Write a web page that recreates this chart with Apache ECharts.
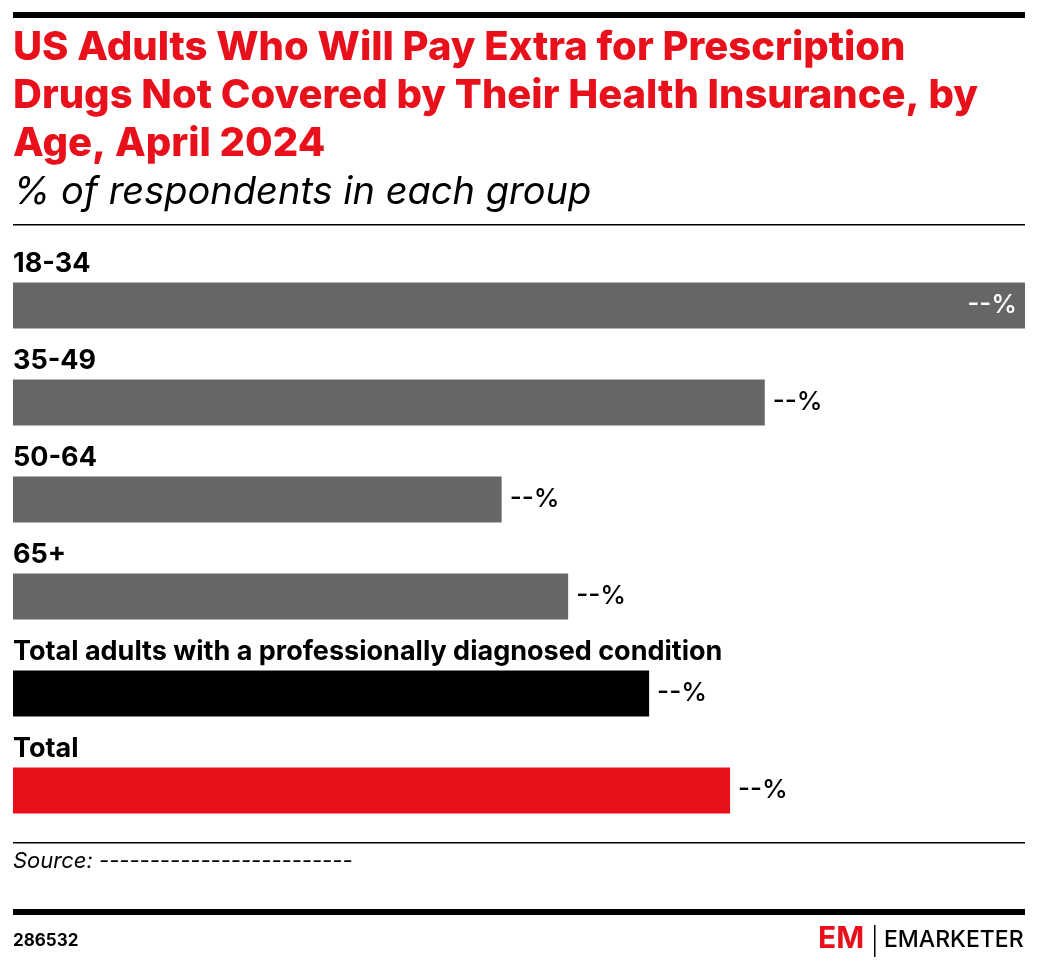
<!DOCTYPE html>
<html><head><meta charset="utf-8">
<script src="https://cdn.jsdelivr.net/npm/echarts@6/dist/echarts.min.js"></script>
<style>html,body{margin:0;padding:0;background:#fff}#c{width:1038px;height:971px}</style>
</head><body><div id="c"></div>
<script>
const categories = ['18-34', '35-49', '50-64', '65+', 'Total adults with a professionally diagnosed condition', 'Total'];
const values = [35, 26, 16.9, 19.2, 22, 24.8];
const barColors = ['#666666', '#666666', '#666666', '#666666', '#000000', '#e8111b'];
const valueLabel = '--%';

const chart = echarts.init(document.getElementById('c'));
const font = 'Inter, "Noto Sans", sans-serif';

chart.setOption({
  animation: false,
  grid: { left: 13, right: 13, top: 257, height: 582 },
  xAxis: { type: 'value', min: 0, max: values[0], show: false },
  yAxis: {
    type: 'category', data: categories, inverse: true,
    axisLine: { show: false }, axisTick: { show: false },
    axisLabel: {
      inside: true, margin: 0, align: 'left', verticalAlign: 'bottom',
      padding: [0, 0, 28, 0], color: '#000', fontFamily: font, fontWeight: 'bold', fontSize: 27
    }
  },
  series: [{
    type: 'bar', barWidth: 46,
    data: values.map((v, i) => ({
      value: v,
      itemStyle: { color: barColors[i] },
      label: i === 0 ? { position: 'insideRight', color: '#fff', distance: 8 } : {}
    })),
    label: {
      show: true, position: 'right', distance: 8, formatter: valueLabel,
      color: '#000', fontFamily: font, fontSize: 26, fontWeight: 500
    }
  }],
  graphic: [
    { type: 'rect', shape: { x: 13, y: 12, width: 1012, height: 6 }, style: { fill: '#000' } },
    { type: 'text', left: 13, top: 24, style: {
      text: 'US Adults Who Will Pay Extra for Prescription\nDrugs Not Covered by Their Health Insurance, by\nAge, April 2024',
      fill: '#e8111b', font: '800 40px ' + font, lineHeight: 48 } },
    { type: 'text', left: 13, top: 174, style: {
      text: '% of respondents in each group', fill: '#000', font: 'italic 38px ' + font } },
    { type: 'rect', shape: { x: 13, y: 224, width: 1012, height: 1.5 }, style: { fill: '#000' } },
    { type: 'rect', shape: { x: 13, y: 842, width: 1012, height: 1.5 }, style: { fill: '#000' } },
    { type: 'text', left: 13, top: 850, style: {
      text: 'Source: -------------------------', fill: '#000', font: 'italic 22px ' + font } },
    { type: 'rect', shape: { x: 13, y: 909, width: 1012, height: 6 }, style: { fill: '#000' } },
    { type: 'text', left: 13, top: 932, style: { text: '286532', fill: '#000', font: 'bold 17px ' + font } },
    { type: 'text', left: 818, top: 924, style: { text: 'EM', fill: '#e8111b', font: 'bold 30px ' + font } },
    { type: 'rect', shape: { x: 874, y: 925, width: 1.5, height: 32 }, style: { fill: '#000' } },
    { type: 'text', left: 884, top: 929, style: { text: 'EMARKETER', fill: '#000', font: '500 23px ' + font } }
  ]
});
</script></body></html>
